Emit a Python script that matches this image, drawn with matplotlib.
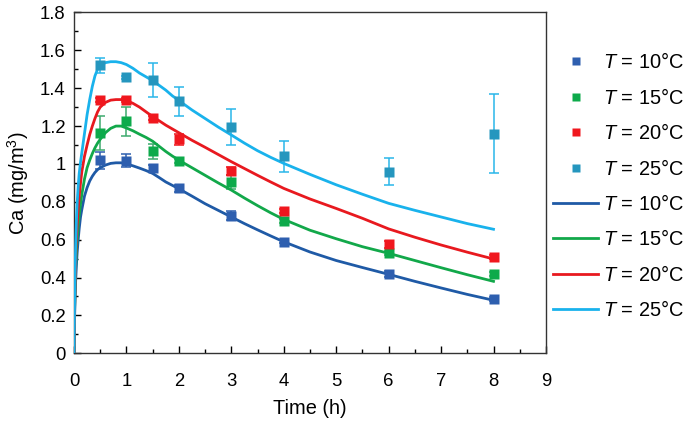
import matplotlib
matplotlib.use("Agg")
import matplotlib.pyplot as plt
from matplotlib.ticker import MultipleLocator, FuncFormatter
from matplotlib.lines import Line2D

plt.rcParams['font.family'] = ['Liberation Sans', 'DejaVu Sans']
plt.rcParams['mathtext.fontset'] = 'custom'
plt.rcParams['mathtext.rm'] = 'Liberation Sans'
plt.rcParams['mathtext.it'] = 'Liberation Sans:italic'

# measured data
t_obs = [0.5, 1, 1.5, 2, 3, 4, 6, 8]
obs_10 = [1.02, 1.017, 0.98, 0.871, 0.727, 0.59, 0.417, 0.285]
obs_15 = [1.162, 1.226, 1.068, 1.017, 0.905, 0.70, 0.53, 0.42]
obs_20 = [1.337, 1.337, 1.242, 1.13, 0.962, 0.752, 0.575, 0.507]
obs_25 = [1.522, 1.457, 1.443, 1.332, 1.193, 1.04, 0.96, 1.16]
err_10 = [0.045, 0.035, 0.015, 0.02, 0.025, 0.01, 0.015, 0.01]
err_15 = [0.09, 0.077, 0.04, 0.01, 0.035, 0.01, 0.01, 0.01]
err_20 = [0.01, 0.01, 0.01, 0.03, 0.02, 0.01, 0.02, 0.01]
err_25 = [0.04, 0.01, 0.09, 0.077, 0.095, 0.08, 0.07, 0.21]

# model curves
t_fit = [0, 0.01, 0.02, 0.03, 0.045, 0.06, 0.08, 0.1, 0.125, 0.15, 0.2, 0.25, 0.3,
         0.35, 0.4, 0.45, 0.5, 0.6, 0.7, 0.8, 0.9, 1.0, 1.125, 1.25, 1.375, 1.5,
         1.625, 1.75, 1.875, 2.0, 2.25, 2.5, 2.75, 3.0, 3.25, 3.5, 3.75, 4.0, 4.5,
         5.0, 5.5, 6.0, 6.5, 7.0, 7.5, 8.0]
fit_10 = [0, 0.17, 0.28, 0.37, 0.46, 0.53, 0.60, 0.66, 0.72, 0.76, 0.83, 0.875, 0.91,
          0.935, 0.955, 0.97, 0.98, 0.994, 1.003, 1.006, 1.006, 1.0, 0.99, 0.978, 0.965, 0.95,
          0.928, 0.905, 0.887, 0.869, 0.83, 0.79, 0.755, 0.72, 0.685, 0.652, 0.62, 0.589, 0.535,
          0.49, 0.453, 0.417, 0.38, 0.345, 0.311, 0.28]
fit_15 = [0, 0.20, 0.33, 0.43, 0.53, 0.60, 0.67, 0.73, 0.79, 0.84, 0.92, 0.98, 1.02,
          1.055, 1.085, 1.11, 1.13, 1.165, 1.188, 1.2, 1.2, 1.19, 1.175, 1.157, 1.14, 1.12,
          1.093, 1.066, 1.042, 1.02, 0.98, 0.94, 0.9, 0.862, 0.82, 0.78, 0.742, 0.707, 0.65,
          0.605, 0.563, 0.528, 0.49, 0.452, 0.415, 0.38]
fit_20 = [0, 0.22, 0.37, 0.48, 0.60, 0.68, 0.76, 0.83, 0.90, 0.96, 1.04, 1.10, 1.155,
          1.20, 1.24, 1.275, 1.30, 1.325, 1.337, 1.34, 1.34, 1.335, 1.32, 1.30, 1.275, 1.25,
          1.228, 1.205, 1.185, 1.165, 1.125, 1.088, 1.05, 1.012, 0.976, 0.94, 0.905, 0.871, 0.815,
          0.765, 0.713, 0.657, 0.613, 0.572, 0.534, 0.498]
fit_25 = [0, 0.25, 0.42, 0.55, 0.69, 0.79, 0.88, 0.95, 1.01, 1.06, 1.16, 1.26, 1.34,
          1.41, 1.465, 1.50, 1.52, 1.535, 1.54, 1.54, 1.535, 1.525, 1.505, 1.48, 1.46, 1.44,
          1.415, 1.39, 1.36, 1.335, 1.285, 1.24, 1.195, 1.153, 1.11, 1.07, 1.035, 1.003, 0.945,
          0.89, 0.84, 0.792, 0.755, 0.72, 0.685, 0.655]

labels = ['$T$ = 10°C', '$T$ = 15°C', '$T$ = 20°C', '$T$ = 25°C']
marker_colors = ['#2E5FAF', '#0DAA4B', '#F0171E', '#2596BE']
err_colors = ['#2E5FAF', '#3DAA6E', '#F0171E', '#29B6EA']
line_colors = ['#1F5AA6', '#12A84A', '#E8191F', '#19B2EC']

fig = plt.figure(figsize=(6.85, 4.26), dpi=100)
ax = fig.add_axes([0.108, 0.1707, 0.689, 0.8])

obs = [obs_10, obs_15, obs_20, obs_25]
errs = [err_10, err_15, err_20, err_25]
fits = [fit_10, fit_15, fit_20, fit_25]

for i in range(4):
    ax.errorbar(t_obs, obs[i], yerr=errs[i], fmt='none', ecolor=err_colors[i],
                elinewidth=1.1, capsize=3.5, capthick=1.1, zorder=2)
for i in range(4):
    ax.plot(t_fit, fits[i], color=line_colors[i], lw=2.0, zorder=3,
            solid_joinstyle='round')
for i in range(4):
    ax.plot(t_obs, obs[i], 's', color=marker_colors[i], ms=6.5, mec='none', zorder=4)

ax.set_xlim(0, 9)
ax.set_ylim(0, 1.8)
ax.xaxis.set_major_locator(MultipleLocator(1))
ax.xaxis.set_minor_locator(MultipleLocator(0.5))
ax.yaxis.set_major_locator(MultipleLocator(0.2))
ax.yaxis.set_minor_locator(MultipleLocator(0.1))
ax.yaxis.set_major_formatter(FuncFormatter(lambda v, p: '%g' % round(v, 2)))
ax.tick_params(which='both', direction='in', labelsize=13.3, top=False, right=False)
ax.tick_params(which='major', length=5, width=1)
ax.tick_params(which='minor', length=3, width=1)
ax.tick_params(axis='x', pad=14)
ax.tick_params(axis='y', pad=6)
for s in ax.spines.values():
    s.set_linewidth(1.0)
    s.set_color('#333333')

ax.set_xlabel('Time (h)', fontsize=14.4, labelpad=7)
ax.set_ylabel('Ca (mg/m$^3$)', fontsize=14.4, labelpad=6)

handles = []
for i in range(4):
    handles.append(Line2D([], [], ls='none', marker='s', color=marker_colors[i], ms=5.8, mec='none'))
for i in range(4):
    handles.append(Line2D([], [], color=line_colors[i], lw=2.0))
fig.legend(handles, labels + labels, loc='upper left', bbox_to_anchor=(0.808, 0.877),
           frameon=False, fontsize=14.4, handlelength=2.25, handletextpad=0.25,
           labelspacing=0.77, borderaxespad=0, borderpad=0)

fig.savefig('out.png', dpi=100)
